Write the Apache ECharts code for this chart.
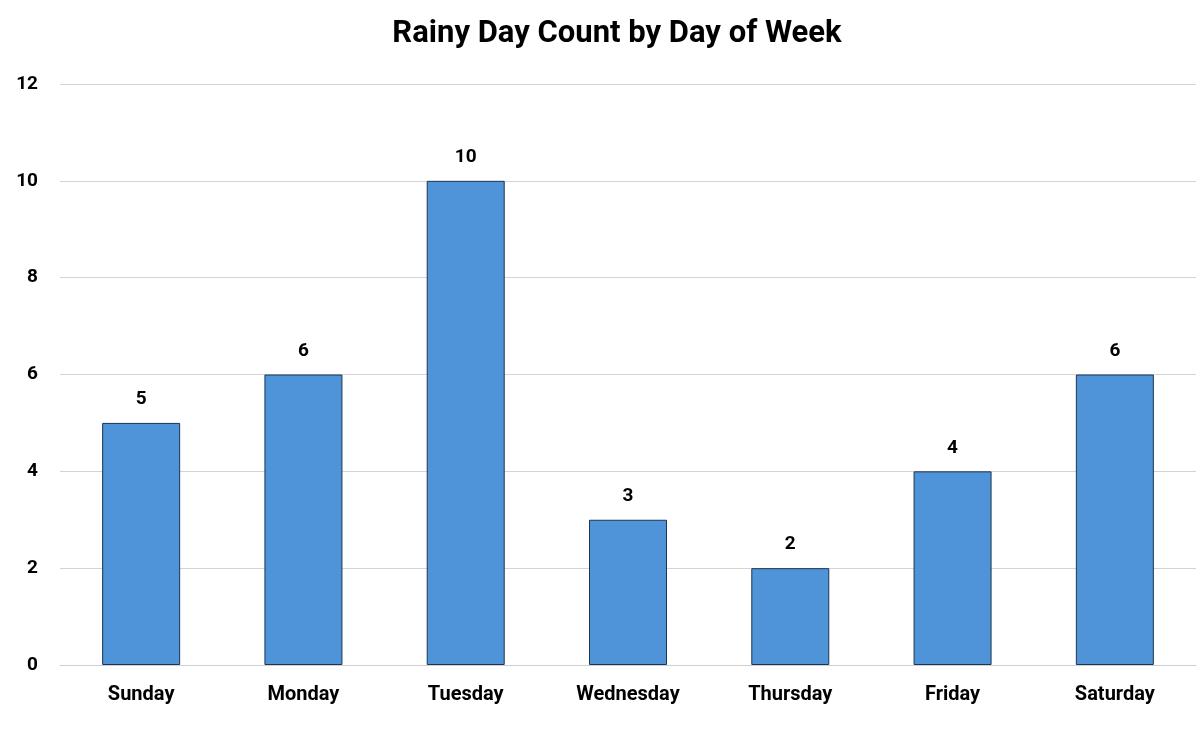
<!DOCTYPE html>
<html>
<head>
<meta charset="utf-8">
<script src="https://cdn.jsdelivr.net/npm/echarts@6/dist/echarts.min.js"></script>
<style>
  html, body { margin: 0; padding: 0; background: #fff; }
  #chart { width: 1200px; height: 731px; }
</style>
</head>
<body>
<div id="chart"></div>
<script>
var days = ['Sunday', 'Monday', 'Tuesday', 'Wednesday', 'Thursday', 'Friday', 'Saturday'];
var rainyCounts = [5, 6, 10, 3, 2, 4, 6];
var yTicks = [0, 2, 4, 6, 8, 10, 12];

var chart = echarts.init(document.getElementById('chart'));
var option = {
   backgroundColor: '#ffffff',
   animation: false,
   title: {
      text: 'Rainy Day Count by Day of Week',
      left: 612,
      textAlign: 'center',
      top: 14,
      textStyle: { fontFamily: 'Roboto', fontWeight: 'bold', fontSize: 31, color: '#000' }
   },
   grid: { left: 60, right: 4, top: 84, bottom: 66, containLabel: false },
   xAxis: {
      type: 'category',
      data: days,
      axisLine: { show: true, lineStyle: { color: '#d0d0d0', width: 1 } },
      axisTick: { show: false },
      axisLabel: {
         margin: 20,
         fontFamily: 'Roboto', fontWeight: 'bold', fontSize: 20, color: '#000'
      }
   },
   yAxis: {
      type: 'value',
      min: yTicks[0],
      max: yTicks[yTicks.length - 1],
      interval: 2,
      axisLine: { show: false },
      axisTick: { show: false },
      splitLine: { lineStyle: { color: '#d4d4d4', width: 1 } },
      axisLabel: {
         margin: 22,
         fontFamily: 'Roboto', fontWeight: 'bold', fontSize: 19, color: '#000'
      }
   },
   series: [{
      type: 'bar',
      data: rainyCounts,
      barWidth: 78,
      itemStyle: { color: '#4f94d9', borderColor: '#1c3550', borderWidth: 1 },
      label: {
         show: true,
         position: 'top',
         distance: 14,
         fontFamily: 'Roboto', fontWeight: 'bold', fontSize: 19, color: '#000'
      }
   }]
};
chart.setOption(option);
</script>
</body>
</html>
